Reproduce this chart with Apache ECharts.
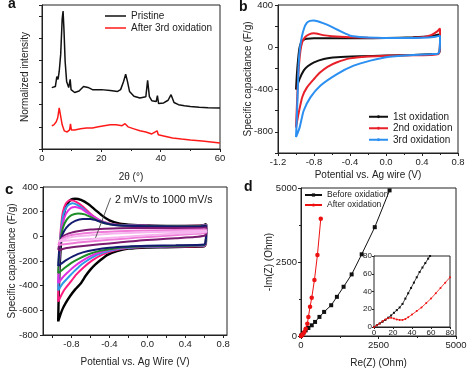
<!DOCTYPE html>
<html><head><meta charset="utf-8">
<script src="https://cdn.jsdelivr.net/npm/echarts@6/dist/echarts.min.js"></script>
<style>html,body{margin:0;padding:0;background:#fff}#c{width:474px;height:381px}</style>
</head><body><div id="c"></div>
<script>
// ---------- Panel a: XRD ----------
const xrdPristine = [[3.3,2.77],[3.8,2.86],[4.5,2.82],[5.0,3.27],[5.4,3.14],[5.8,3.5],[6.3,4.27],[6.8,5.86],[7.1,6.23],[7.4,5.4],[7.8,3.95],[8.3,3.05],[9.0,2.77],[9.5,3.14],[9.8,2.68],[11,2.55],[12.5,2.62],[14,2.82],[15.5,2.78],[17,2.68],[20,2.68],[23,2.64],[25.5,2.6],[26.5,2.68],[27.5,3.05],[28.2,3.38],[28.8,3.05],[29.5,2.6],[31,2.38],[33,2.3],[35,2.36],[35.6,3.1],[36.2,2.36],[37,2.18],[38.5,2.14],[38.9,2.41],[39.3,2.05],[41,2.08],[42.5,2.2],[43.5,2.45],[44.5,2.1],[46,2.0],[48,1.95],[50,1.92],[53,1.88],[56,1.86],[60,1.85]];
const xrdOxidized = [[3.3,1.05],[4,1.09],[4.8,1.23],[5.3,1.41],[5.8,1.86],[6.2,1.55],[6.8,1.09],[7.5,0.82],[8.5,0.77],[9.3,0.86],[9.6,1.14],[9.9,0.86],[11,0.86],[13,0.91],[15,0.95],[17,0.95],[19,1.0],[21,1.05],[23,1.09],[25,1.09],[27,1.05],[28,1.14],[29,1.0],[31,0.91],[33,0.82],[35,0.77],[37,0.68],[38.8,0.82],[39.2,0.64],[41,0.59],[44,0.5],[47,0.45],[50,0.41],[54,0.36],[57,0.32],[60,0.27]];

// ---------- Panel b: CV after successive oxidations ----------
const cvOx1 = [[-1.0,-400],[-0.99,-250],[-0.975,-100],[-0.96,0],[-0.94,50],[-0.915,70],[-0.88,80],[-0.8,85],[-0.6,85],[-0.3,85],[0,88],[0.3,95],[0.5,105],[0.58,118],[0.6,128],[0.6,60],[0.595,-40],[0.58,-60],[0.53,-63],[0.3,-72],[0,-78],[-0.3,-85],[-0.544,-95],[-0.69,-110],[-0.8,-142],[-0.87,-180],[-0.915,-221],[-0.96,-300],[-1.0,-400]];
const cvOx2 = [[-1.0,-750],[-0.99,-550],[-0.98,-350],[-0.965,-150],[-0.95,-30],[-0.93,50],[-0.9,95],[-0.86,120],[-0.8,132],[-0.76,128],[-0.7,115],[-0.6,105],[-0.4,95],[-0.2,90],[0,88],[0.2,88],[0.4,95],[0.5,115],[0.57,150],[0.6,178],[0.6,80],[0.595,-40],[0.58,-65],[0.5,-72],[0.3,-75],[0,-80],[-0.2,-88],[-0.4,-105],[-0.544,-142],[-0.65,-185],[-0.73,-237],[-0.8,-300],[-0.878,-379],[-0.93,-470],[-0.97,-620],[-1.0,-760]];
const cvOx3 = [[-1.0,-850],[-0.99,-650],[-0.98,-400],[-0.97,-150],[-0.955,0],[-0.935,100],[-0.91,180],[-0.88,230],[-0.845,250],[-0.804,253],[-0.76,246],[-0.7,228],[-0.62,200],[-0.544,168],[-0.45,130],[-0.396,110],[-0.25,95],[-0.1,90],[0,88],[0.2,88],[0.4,90],[0.55,100],[0.6,110],[0.6,40],[0.595,-30],[0.58,-60],[0.5,-65],[0.3,-72],[0.1,-85],[0,-95],[-0.174,-126],[-0.359,-174],[-0.544,-253],[-0.73,-363],[-0.84,-474],[-0.915,-600],[-0.96,-760],[-1.0,-850]];
const cvBTicksY = [-800,-400,0,400];

// ---------- Panel c: CV at scan rates 2 to 1000 mV/s ----------
const cvRate1 = [[-0.94,-690],[-0.935,-500],[-0.925,-250],[-0.91,-50],[-0.895,100],[-0.87,210],[-0.84,270],[-0.8,300],[-0.76,305],[-0.7,295],[-0.62,260],[-0.55,215],[-0.48,170],[-0.4,130],[-0.3,105],[-0.15,92],[0,88],[0.2,85],[0.4,85],[0.58,88],[0.62,100],[0.62,60],[0.617,-60],[0.6,-80],[0.4,-85],[0.2,-88],[0,-90],[-0.2,-100],[-0.32,-120],[-0.42,-150],[-0.49,-190],[-0.55,-230],[-0.6,-270],[-0.65,-320],[-0.7,-380],[-0.76,-430],[-0.81,-480],[-0.86,-540],[-0.9,-600],[-0.94,-690]];
const cvRate2 = [[-0.94,-530],[-0.935,-300],[-0.925,-80],[-0.91,80],[-0.89,200],[-0.86,265],[-0.82,293],[-0.78,290],[-0.72,265],[-0.65,220],[-0.58,170],[-0.5,130],[-0.4,105],[-0.25,92],[0,86],[0.3,84],[0.55,85],[0.62,95],[0.62,50],[0.615,-60],[0.6,-78],[0.3,-82],[0,-86],[-0.2,-95],[-0.35,-115],[-0.48,-150],[-0.58,-195],[-0.67,-250],[-0.75,-310],[-0.82,-380],[-0.88,-440],[-0.94,-530]];
const cvRate3 = [[-0.94,-440],[-0.932,-250],[-0.92,-60],[-0.905,80],[-0.88,190],[-0.84,250],[-0.79,268],[-0.74,255],[-0.68,225],[-0.6,175],[-0.52,135],[-0.42,105],[-0.3,92],[0,86],[0.3,84],[0.55,84],[0.62,92],[0.62,40],[0.615,-55],[0.6,-75],[0.3,-80],[0,-84],[-0.2,-92],[-0.35,-108],[-0.48,-135],[-0.58,-170],[-0.68,-220],[-0.76,-275],[-0.83,-330],[-0.89,-380],[-0.94,-440]];
const cvRate4 = [[-0.94,-380],[-0.93,-200],[-0.915,-30],[-0.895,90],[-0.86,180],[-0.81,228],[-0.76,238],[-0.7,225],[-0.63,190],[-0.55,150],[-0.46,115],[-0.35,95],[-0.2,88],[0,85],[0.3,83],[0.55,83],[0.62,90],[0.62,35],[0.615,-50],[0.6,-72],[0.3,-78],[0,-82],[-0.2,-88],[-0.35,-102],[-0.48,-125],[-0.6,-160],[-0.7,-205],[-0.78,-250],[-0.85,-300],[-0.9,-340],[-0.94,-380]];
const cvRate5 = [[-0.94,-300],[-0.93,-150],[-0.915,-20],[-0.89,70],[-0.85,135],[-0.8,172],[-0.73,186],[-0.66,178],[-0.58,150],[-0.5,120],[-0.4,98],[-0.28,88],[0,84],[0.3,82],[0.55,82],[0.62,88],[0.62,30],[0.615,-45],[0.6,-70],[0.3,-76],[0,-80],[-0.2,-86],[-0.35,-98],[-0.5,-118],[-0.62,-145],[-0.72,-180],[-0.8,-215],[-0.87,-255],[-0.94,-300]];
const cvRate6 = [[-0.94,-240],[-0.93,-120],[-0.91,-20],[-0.88,40],[-0.83,90],[-0.76,125],[-0.68,140],[-0.6,140],[-0.52,125],[-0.44,105],[-0.35,92],[-0.2,85],[0,82],[0.3,80],[0.55,80],[0.62,86],[0.62,25],[0.615,-40],[0.6,-66],[0.3,-72],[0,-77],[-0.2,-82],[-0.4,-92],[-0.55,-108],[-0.68,-130],[-0.78,-160],[-0.86,-195],[-0.94,-240]];
const cvRate7 = [[-0.94,-110],[-0.92,-40],[-0.88,5],[-0.8,30],[-0.7,45],[-0.6,55],[-0.45,62],[-0.3,66],[0,68],[0.3,68],[0.55,68],[0.62,72],[0.62,20],[0.6,5],[0.5,-5],[0.3,-15],[0.1,-25],[-0.1,-35],[-0.3,-50],[-0.5,-65],[-0.7,-80],[-0.85,-95],[-0.94,-115]];
const cvRate8 = [[-0.94,-70],[-0.9,-20],[-0.8,10],[-0.6,30],[-0.3,42],[0,48],[0.3,52],[0.62,55],[0.62,30],[0.5,20],[0.2,5],[-0.1,-10],[-0.4,-28],[-0.7,-48],[-0.94,-70]];
const cvRate9 = [[-0.94,-40],[-0.8,-5],[-0.5,15],[-0.2,28],[0.2,38],[0.62,45],[0.62,35],[0.3,22],[0,8],[-0.3,-8],[-0.6,-22],[-0.94,-40]];
const cvCTicksX = [-0.8,-0.4,0,0.4,0.8];
const cvCMinorX = [-1.0,-0.8,-0.6,-0.4,-0.2,0,0.2,0.4,0.6,0.8];
const arrowFrom = [-0.387,312];
const arrowTo = [-0.546,-12];

// ---------- Panel d: Nyquist ----------
const eisBefore = [[0,0],[22,34],[76,102],[151,192],[238,271],[346,362],[454,475],[595,645],[746,814],[974,1040],[1158,1323],[1374,1663],[1634,2081],[1958,2760],[2380,3676],[2857,4920]];
const eisAfter = [[0,0],[22,23],[54,57],[108,136],[151,249],[205,418],[238,645],[292,984],[346,1289],[433,1889],[530,2737],[638,3958]];
const eisBeforeZoom = [[0,0],[3,2],[6,4],[9,6],[12,8],[15,10.5],[18,13],[21,16],[24,19],[27,22],[30,26],[33,32],[36,38],[39,44],[42,50],[45,56],[48,62],[51,67],[54,72],[57,77],[59,80]];
const eisAfterZoom = [[0,0],[3,2],[6,4],[9,6.5],[12,8.5],[15,10],[18,10.5],[21,9.5],[24,8.5],[27,8],[30,8],[33,9],[36,11],[40,14],[45,18],[50,22],[55,27],[60,32],[65,38],[70,44],[75,50],[80,56]];

const FF = 'Liberation Sans, Arial, sans-serif';
const INK = '#222';
function merge(a, b) {
  const o = Array.isArray(a) ? a.slice() : Object.assign({}, a);
  for (const k in b) {
    if (b[k] && typeof b[k] === 'object' && !Array.isArray(b[k]) && a && typeof a[k] === 'object' && !Array.isArray(a[k])) o[k] = merge(a[k], b[k]);
    else o[k] = b[k];
  }
  return o;
}
function ax(o) {
  return merge({
    type: 'value', nameLocation: 'middle', nameMoveOverlap: false,
    axisLine: {show: true, onZero: false, lineStyle: {color: INK, width: 1}},
    axisTick: {show: true, length: 3, lineStyle: {color: INK}},
    minorTick: {show: false},
    splitLine: {show: false},
    axisLabel: {fontSize: 9.5, color: INK, fontFamily: FF, margin: 4, formatter: v => String(v)},
    nameTextStyle: {fontSize: 10, color: INK, fontFamily: FF}
  }, o);
}
const gridBase = {show: true, borderColor: INK, borderWidth: 1, backgroundColor: 'transparent', containLabel: false};
function line(name, data, color, xi, extra) {
  return merge({type: 'line', name: name, data: data, xAxisIndex: xi, yAxisIndex: xi,
    symbol: 'none', showSymbol: false, lineStyle: {color: color, width: 2}, itemStyle: {color: color},
    animation: false, silent: true, z: 3}, extra || {});
}

const chart = echarts.init(document.getElementById('c'), null, {renderer: 'canvas'});
const cvColors = ['#000000','#ff1a80','#2e9be6','#e02ee0','#1e8c28','#141a70','#7a1a70','#f07ad8','#f5b4ee'];
const cvRates = [cvRate1,cvRate2,cvRate3,cvRate4,cvRate5,cvRate6,cvRate7,cvRate8,cvRate9];

const series = [
  line('Pristine', xrdPristine, '#111', 0, {lineStyle: {width: 1.5}}),
  line('After 3rd oxidation', xrdOxidized, '#ff1a1a', 0, {lineStyle: {width: 1.5}}),
  line('1st oxidation', cvOx1, '#111', 1, {smooth: 0.2, symbol: 'circle', symbolSize: 3}),
  line('2nd oxidation', cvOx2, '#e8202a', 1, {smooth: 0.2, symbol: 'circle', symbolSize: 3}),
  line('3rd oxidation', cvOx3, '#2a8ff0', 1, {smooth: 0.2, symbol: 'circle', symbolSize: 3})
];
cvRates.forEach((d, i) => {
  const s = line('rate' + i, d, cvColors[i], 2, {smooth: 0.2, lineStyle: {width: i === 0 ? 2.4 : 2}});
  if (i === 0) {
    s.markLine = {silent: true, symbol: ['none', 'arrow'], symbolSize: [0, 6], label: {show: false},
      lineStyle: {color: '#333', width: 0.8, type: 'solid'}, animation: false,
      data: [[{coord: arrowFrom}, {coord: arrowTo}]]};
  }
  series.push(s);
});
series.push(line('Before oxidation', eisBefore, '#111', 3, {symbol: 'rect', symbolSize: 4, showSymbol: true, lineStyle: {width: 1}}));
series.push(line('After oxidation', eisAfter, '#ee1111', 3, {symbol: 'circle', symbolSize: 4.5, showSymbol: true, lineStyle: {width: 1}}));
series.push(line('Before oxidation', eisBeforeZoom, '#111', 4, {symbol: 'rect', symbolSize: 2, showSymbol: true, lineStyle: {width: 0.8}}));
series.push(line('After oxidation', eisAfterZoom, '#ee1111', 4, {symbol: 'circle', symbolSize: 2, showSymbol: true, lineStyle: {width: 0.8}}));

const legendText = {fontSize: 10, color: INK, fontFamily: FF};
const option = {
  backgroundColor: '#fff',
  animation: false,
  grid: [
    merge(gridBase, {left: 42, top: 5, width: 178, height: 144}),
    merge(gridBase, {left: 278, top: 5, width: 180, height: 148}),
    merge(gridBase, {left: 43, top: 187, width: 184, height: 148}),
    merge(gridBase, {left: 301, top: 188, width: 155, height: 148}),
    merge(gridBase, {left: 374, top: 256, width: 76, height: 71, backgroundColor: '#fff', z: 1})
  ],
  xAxis: [
    ax({gridIndex: 0, min: 0, max: 60, interval: 20, name: '2θ (°)', nameGap: 23, minorTick: {show: true, splitNumber: 2, length: 2, lineStyle: {color: INK}}}),
    ax({gridIndex: 1, min: -1.2, max: 0.8, interval: 0.4, name: 'Potential vs. Ag wire (V)', nameGap: 17,
        axisLabel: {formatter: v => v.toFixed(1)}, minorTick: {show: true, splitNumber: 2, length: 2, lineStyle: {color: INK}}}),
    ax({gridIndex: 2, min: -1.1, max: 0.84, name: 'Potential vs. Ag Wire (V)', nameGap: 22,
        axisLabel: {customValues: cvCTicksX, formatter: v => v.toFixed(1)},
        axisTick: {customValues: cvCMinorX}}),
    ax({gridIndex: 3, min: 0, max: 5000, interval: 2500, name: 'Re(Z) (Ohm)', nameGap: 22, minorTick: {show: true, splitNumber: 2, length: 2, lineStyle: {color: INK}}}),
    ax({gridIndex: 4, min: 0, max: 80, interval: 20, axisLabel: {fontSize: 8, margin: 2}, axisTick: {length: 2}})
  ],
  yAxis: [
    ax({gridIndex: 0, min: 0, max: 6.5, interval: 1, name: 'Normalized intensity', nameGap: 12, axisLabel: {show: false}}),
    ax({gridIndex: 1, min: -1000, max: 400, interval: 200, name: 'Specific capacitance (F/g)', nameGap: 25,
        axisLabel: {margin: 5, formatter: v => (cvBTicksY.indexOf(v) >= 0 ? String(v) : '')}}),
    ax({gridIndex: 2, min: -800, max: 400, interval: 200, name: 'Specific capacitance (F/g)', nameGap: 26, axisLabel: {margin: 5}}),
    ax({gridIndex: 3, min: 0, max: 5000, interval: 2500, name: '-Im(Z) (Ohm)', nameGap: 27, axisLabel: {margin: 4}, minorTick: {show: true, splitNumber: 2, length: 2, lineStyle: {color: INK}}}),
    ax({gridIndex: 4, min: 0, max: 80, interval: 20, axisLabel: {fontSize: 8, margin: 2}, axisTick: {length: 2}})
  ],
  legend: [
    {data: [{name: 'Pristine', icon: 'rect'}, {name: 'After 3rd oxidation', icon: 'rect'}], orient: 'vertical', left: 105, top: 10, padding: 0, itemGap: 0,
     itemWidth: 21, itemHeight: 1.5, textStyle: merge(legendText, {lineHeight: 12}), selectedMode: false},
    {data: ['1st oxidation', '2nd oxidation', '3rd oxidation'], orient: 'vertical', left: 368, top: 111, padding: 0, itemGap: 0,
     itemWidth: 19, itemHeight: 3.5, textStyle: merge(legendText, {lineHeight: 11.5}), selectedMode: false},
    {data: ['Before oxidation', 'After oxidation'], orient: 'vertical', left: 304, top: 190, padding: 0, itemGap: 0,
     itemWidth: 17, itemHeight: 4, textStyle: merge(legendText, {fontSize: 8.5, lineHeight: 10}), selectedMode: false}
  ],
  graphic: [
    {type: 'text', left: 8, top: -3, style: {text: 'a', font: 'bold 14px ' + FF, fill: '#111'}},
    {type: 'text', left: 239, top: 0, style: {text: 'b', font: 'bold 14px ' + FF, fill: '#111'}},
    {type: 'text', left: 5, top: 182, style: {text: 'c', font: 'bold 15px ' + FF, fill: '#111'}},
    {type: 'text', left: 244, top: 180, style: {text: 'd', font: 'bold 14px ' + FF, fill: '#111'}},
    {type: 'text', left: 115, top: 195, style: {text: '2 mV/s to 1000 mV/s', font: '10.5px ' + FF, fill: '#111'}}
  ],
  series: series
};
chart.setOption(option);
</script></body></html>
